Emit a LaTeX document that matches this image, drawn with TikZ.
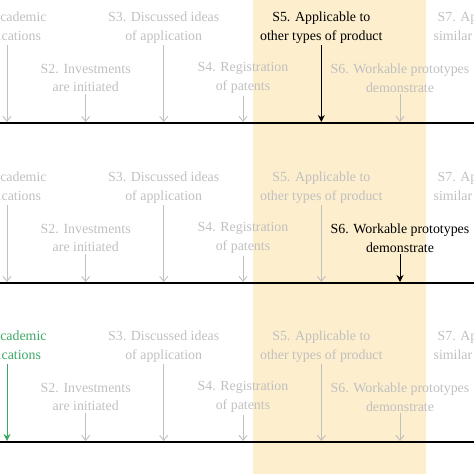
\documentclass[tikz,border=0pt]{standalone}
\usepackage{fontspec}
\setmainfont{Liberation Serif}
\usetikzlibrary{arrows.meta}
\definecolor{band}{RGB}{253,238,205}
\definecolor{dimtext}{RGB}{192,192,192}
\definecolor{dimarrow}{RGB}{192,192,192}
\definecolor{hlgreen}{RGB}{60,168,100}
\tikzset{
 lbl/.style={align=center, font=\fontsize{13.9}{18.5}\selectfont, inner sep=2pt},
 dimlbl/.style={lbl, text=dimtext},
 dimarr/.style={draw=dimarrow, line width=0.8pt, -{Straight Barb[length=5pt,width=8pt,line width=0.9pt]}},
 hlarr/.style={draw=#1, line width=0.9pt, -{Stealth[length=7pt,width=7pt]}},
 axisline/.style={line width=1.4pt, draw=black},
}
\newcommand\drawpanel[4]{%
 \begin{scope}[yshift=-#2pt]
  \coordinate (#1L) at (-5,123);
  \coordinate (#1R) at (480,123);
  \foreach \i/\x/\y/\t in {1/7/27.5/{S1. Academic\\publications},
     2/85.7/78/{S2. Investments\\are initiated},
     3/163.7/27.5/{S3. Discussed ideas\\of application},
     4/243/78/{S4. Registration\\of patents},
     5/321.3/27.5/{S5. Applicable to\\other types of product},
     6/400/78/{S6. Workable prototypes\\demonstrate},
     7/478.6/27.5/{S7. Applied to\\similar products}}{
    \ifnum\i=#3\relax
      \tikzset{curlbl/.style={lbl,text=#4}, curarr/.style={hlarr=#4}}
    \else
      \tikzset{curlbl/.style={dimlbl}, curarr/.style={dimarr}}
    \fi
    \node[curlbl] (#1s\i) at (\x,\y) {\t};
    \coordinate (#1a\i) at (\x,122);
    \draw[curarr] (#1s\i.south) -- (#1a\i);
  }
  \draw[axisline] (#1L) -- (#1R);
 \end{scope}}
\begin{document}
\begin{tikzpicture}[x=1pt,y=-1pt]
 \useasboundingbox (0,0) rectangle (474,474);
 \clip (0,0) rectangle (474,474);
 \fill[band] (253.3,-2) rectangle (425.7,476);
 \drawpanel{p}{0}{5}{black}
 \drawpanel{q}{160}{6}{black}
 \drawpanel{r}{319}{1}{hlgreen}
\end{tikzpicture}
\end{document}
